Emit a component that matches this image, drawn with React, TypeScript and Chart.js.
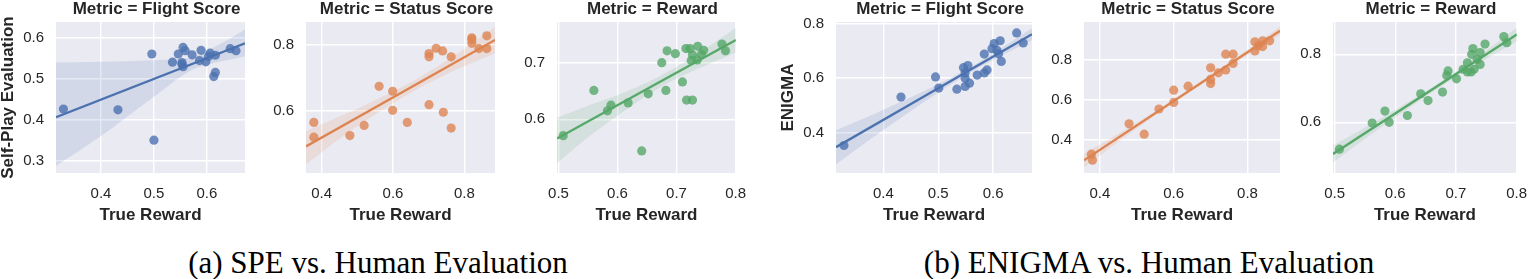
import React, { useEffect, useRef } from "react";
import { Chart, registerables } from "chart.js";
Chart.register(...registerables);

// ---------- data ----------
// (a) SPE vs. Human Evaluation
const speFlightX = [0.329, 0.432, 0.500, 0.496, 0.535, 0.546, 0.555, 0.559, 0.553, 0.555, 0.553, 0.572, 0.589, 0.586, 0.598, 0.606, 0.616, 0.613, 0.616, 0.644, 0.655, 0.603];
const speFlightY = [0.426, 0.424, 0.350, 0.560, 0.540, 0.560, 0.576, 0.568, 0.539, 0.529, 0.535, 0.558, 0.569, 0.544, 0.541, 0.562, 0.557, 0.505, 0.515, 0.573, 0.568, 0.554];
const speFlightLineY = [0.406, 0.586];
const speFlightBandX = [0.315, 0.4, 0.5, 0.57, 0.63, 0.672];
const speFlightBandHi = [0.539, 0.541, 0.545, 0.552, 0.588, 0.62];
const speFlightBandLo = [0.287, 0.36, 0.456, 0.52, 0.543, 0.554];

const speStatusX = [0.378, 0.378, 0.479, 0.519, 0.561, 0.599, 0.599, 0.640, 0.701, 0.701, 0.701, 0.721, 0.739, 0.741, 0.763, 0.763, 0.821, 0.821, 0.821, 0.841, 0.863, 0.863];
const speStatusY = [0.564, 0.519, 0.524, 0.555, 0.674, 0.659, 0.601, 0.564, 0.618, 0.774, 0.764, 0.790, 0.782, 0.595, 0.764, 0.547, 0.822, 0.805, 0.817, 0.789, 0.828, 0.789];
const speStatusLineY = [0.491, 0.815];
const speStatusBandX = [0.356, 0.45, 0.55, 0.67, 0.78, 0.886];
const speStatusBandHi = [0.538, 0.582, 0.632, 0.699, 0.774, 0.855];
const speStatusBandLo = [0.436, 0.514, 0.588, 0.667, 0.726, 0.775];

const speRewardX = [0.508, 0.560, 0.583, 0.589, 0.618, 0.652, 0.641, 0.675, 0.682, 0.684, 0.698, 0.710, 0.716, 0.717, 0.723, 0.727, 0.727, 0.725, 0.736, 0.735, 0.742, 0.746, 0.777, 0.783];
const speRewardY = [0.571, 0.651, 0.615, 0.625, 0.629, 0.645, 0.544, 0.700, 0.651, 0.721, 0.716, 0.666, 0.725, 0.634, 0.725, 0.714, 0.634, 0.704, 0.729, 0.705, 0.715, 0.722, 0.733, 0.721];
const speRewardLineY = [0.566, 0.740];
const speRewardBandX = [0.4975, 0.55, 0.62, 0.68, 0.74, 0.8005];
const speRewardBandHi = [0.603, 0.624, 0.651, 0.681, 0.719, 0.762];
const speRewardBandLo = [0.522, 0.568, 0.621, 0.661, 0.691, 0.718];

// (b) ENIGMA vs. Human Evaluation
const enigmaFlightX = [0.328, 0.432, 0.495, 0.501, 0.534, 0.546, 0.554, 0.549, 0.549, 0.549, 0.557, 0.571, 0.584, 0.589, 0.584, 0.598, 0.602, 0.607, 0.613, 0.610, 0.615, 0.643, 0.655];
const enigmaFlightY = [0.352, 0.530, 0.604, 0.563, 0.559, 0.638, 0.646, 0.619, 0.599, 0.569, 0.581, 0.611, 0.619, 0.630, 0.688, 0.708, 0.727, 0.702, 0.737, 0.689, 0.661, 0.766, 0.729];
const enigmaFlightLineY = [0.346, 0.761];
const enigmaFlightBandX = [0.3135, 0.38, 0.45, 0.52, 0.58, 0.671];
const enigmaFlightBandHi = [0.408, 0.465, 0.529, 0.597, 0.665, 0.783];
const enigmaFlightBandLo = [0.282, 0.381, 0.479, 0.573, 0.645, 0.739];

const enigmaStatusX = [0.377, 0.380, 0.479, 0.520, 0.560, 0.600, 0.600, 0.639, 0.700, 0.700, 0.700, 0.721, 0.741, 0.741, 0.761, 0.761, 0.820, 0.820, 0.841, 0.841, 0.860, 0.829];
const enigmaStatusY = [0.329, 0.299, 0.481, 0.429, 0.555, 0.649, 0.588, 0.669, 0.761, 0.703, 0.682, 0.736, 0.829, 0.750, 0.829, 0.783, 0.891, 0.845, 0.896, 0.867, 0.896, 0.871];
const enigmaStatusLineY = [0.298, 0.946];
const enigmaStatusBandX = [0.357, 0.45, 0.55, 0.65, 0.78, 0.888];
const enigmaStatusBandHi = [0.333, 0.431, 0.544, 0.664, 0.826, 0.968];
const enigmaStatusBandLo = [0.263, 0.391, 0.524, 0.648, 0.802, 0.924];

const enigmaRewardX = [0.508, 0.562, 0.583, 0.590, 0.620, 0.642, 0.654, 0.678, 0.685, 0.687, 0.701, 0.712, 0.719, 0.719, 0.725, 0.728, 0.726, 0.730, 0.740, 0.740, 0.748, 0.779, 0.784, 0.735];
const enigmaRewardY = [0.521, 0.598, 0.633, 0.600, 0.620, 0.684, 0.664, 0.689, 0.738, 0.751, 0.728, 0.756, 0.775, 0.748, 0.748, 0.817, 0.800, 0.756, 0.770, 0.805, 0.830, 0.852, 0.834, 0.785];
const enigmaRewardLineY = [0.507, 0.858];
const enigmaRewardBandX = [0.4974, 0.56, 0.63, 0.69, 0.75, 0.8005];
const enigmaRewardBandHi = [0.532, 0.594, 0.669, 0.738, 0.811, 0.878];
const enigmaRewardBandLo = [0.482, 0.564, 0.651, 0.722, 0.787, 0.838];

const titles = ["Metric = Flight Score", "Metric = Status Score", "Metric = Reward"];
const captions = ["(a) SPE vs. Human Evaluation", "(b) ENIGMA vs. Human Evaluation"];
const xLabel = "True Reward";

const BLUE = "#4C72B0";
const ORANGE = "#DD8452";
const GREEN = "#55A868";

const SANS = "'Liberation Sans', Arial, Helvetica, sans-serif";
const TEXT = "#262626";

function rgba(hex: string, a: number) {
  const n = parseInt(hex.slice(1), 16);
  return `rgba(${(n >> 16) & 255},${(n >> 8) & 255},${n & 255},${a})`;
}

type PanelCfg = {
  title: string;
  ylabel?: string;
  color: string;
  xs: number[];
  ys: number[];
  lineY: number[];
  bandX: number[];
  bandHi: number[];
  bandLo: number[];
  xMin: number;
  xMax: number;
  xStep: number;
  yMin: number;
  yMax: number;
  yStep: number;
  plotL: number;
  plotR: number;
  yw: number;
};

const panels: PanelCfg[] = [
  { title: titles[0], ylabel: "Self-Play Evaluation", color: BLUE, xs: speFlightX, ys: speFlightY, lineY: speFlightLineY, bandX: speFlightBandX, bandHi: speFlightBandHi, bandLo: speFlightBandLo, xMin: 0.315, xMax: 0.672, xStep: 0.1, yMin: 0.27, yMax: 0.638, yStep: 0.1, plotL: 56, plotR: 245, yw: 56 },
  { title: titles[1], color: ORANGE, xs: speStatusX, ys: speStatusY, lineY: speStatusLineY, bandX: speStatusBandX, bandHi: speStatusBandHi, bandLo: speStatusBandLo, xMin: 0.356, xMax: 0.886, xStep: 0.2, yMin: 0.41, yMax: 0.87, yStep: 0.2, plotL: 306, plotR: 495, yw: 50 },
  { title: titles[2], color: GREEN, xs: speRewardX, ys: speRewardY, lineY: speRewardLineY, bandX: speRewardBandX, bandHi: speRewardBandHi, bandLo: speRewardBandLo, xMin: 0.4975, xMax: 0.8005, xStep: 0.1, yMin: 0.505, yMax: 0.772, yStep: 0.1, plotL: 557, plotR: 745, yw: 50 },
  { title: titles[0], ylabel: "ENIGMA", color: BLUE, xs: enigmaFlightX, ys: enigmaFlightY, lineY: enigmaFlightLineY, bandX: enigmaFlightBandX, bandHi: enigmaFlightBandHi, bandLo: enigmaFlightBandLo, xMin: 0.3135, xMax: 0.671, xStep: 0.1, yMin: 0.251, yMax: 0.806, yStep: 0.2, plotL: 836, plotR: 1032, yw: 56 },
  { title: titles[1], color: ORANGE, xs: enigmaStatusX, ys: enigmaStatusY, lineY: enigmaStatusLineY, bandX: enigmaStatusBandX, bandHi: enigmaStatusBandHi, bandLo: enigmaStatusBandLo, xMin: 0.357, xMax: 0.888, xStep: 0.2, yMin: 0.235, yMax: 0.99, yStep: 0.2, plotL: 1084, plotR: 1280, yw: 50 },
  { title: titles[2], color: GREEN, xs: enigmaRewardX, ys: enigmaRewardY, lineY: enigmaRewardLineY, bandX: enigmaRewardBandX, bandHi: enigmaRewardBandHi, bandLo: enigmaRewardBandLo, xMin: 0.4974, xMax: 0.8005, xStep: 0.1, yMin: 0.451, yMax: 0.895, yStep: 0.2, plotL: 1333, plotR: 1526, yw: 50 },
];

const CANVAS_H = 224;
const PAD_TOP = 22;
const X_AXIS_H = 51;
const PAD_RIGHT = 13;

const bgPlugin = {
  id: "seabornBg",
  beforeDraw(chart: any) {
    const { ctx, chartArea: a } = chart;
    ctx.save();
    ctx.fillStyle = "#EAEAF2";
    ctx.fillRect(a.left, a.top, a.right - a.left, a.bottom - a.top);
    ctx.restore();
  },
};

function titlePlugin(text: string) {
  return {
    id: "panelTitle",
    afterDraw(chart: any) {
      const { ctx, chartArea: a } = chart;
      ctx.save();
      ctx.font = `bold 17px ${SANS}`;
      ctx.fillStyle = TEXT;
      ctx.textAlign = "center";
      ctx.textBaseline = "middle";
      ctx.fillText(text, (a.left + a.right) / 2 + 6, 9);
      ctx.restore();
    },
  };
}

function Panel({ cfg }: { cfg: PanelCfg }) {
  const ref = useRef<HTMLCanvasElement>(null);
  const cx = cfg.plotL - cfg.yw;
  const cw = cfg.plotR - cx + PAD_RIGHT;

  useEffect(() => {
    const c = cfg;
    const lineX = [c.xMin, c.xMax];
    const tickFont = { family: SANS, size: 15 };
    const titleFont = { family: SANS, size: 17, weight: "bold" as const, lineHeight: 1 };
    const chart = new Chart(ref.current as HTMLCanvasElement, {
      type: "line",
      data: {
        datasets: [
          {
            data: c.bandX.map((x, i) => ({ x, y: c.bandHi[i] })),
            borderWidth: 0,
            pointRadius: 0,
            fill: "+1",
            backgroundColor: rgba(c.color, 0.15),
            cubicInterpolationMode: "monotone",
            order: 0,
          },
          {
            data: c.bandX.map((x, i) => ({ x, y: c.bandLo[i] })),
            borderWidth: 0,
            pointRadius: 0,
            fill: false,
            cubicInterpolationMode: "monotone",
            order: 0,
          },
          {
            data: lineX.map((x, i) => ({ x, y: c.lineY[i] })),
            borderColor: c.color,
            borderWidth: 2.3,
            pointRadius: 0,
            fill: false,
            order: 1,
          },
          {
            data: c.xs.map((x, i) => ({ x, y: c.ys[i] })),
            showLine: false,
            pointRadius: 4.6,
            pointBorderWidth: 0,
            pointBackgroundColor: rgba(c.color, 0.8),
            order: 2,
          },
        ],
      } as any,
      options: {
        animation: false,
        responsive: false,
        devicePixelRatio: 1,
        events: [],
        layout: { padding: { top: PAD_TOP, right: PAD_RIGHT, left: 0, bottom: 0 } },
        plugins: { legend: { display: false }, tooltip: { enabled: false }, title: { display: false } },
        scales: {
          x: {
            type: "linear",
            min: c.xMin,
            max: c.xMax,
            grid: { color: "#ffffff", lineWidth: 1.4, drawTicks: false },
            border: { display: false },
            ticks: {
              stepSize: c.xStep,
              includeBounds: false,
              autoSkip: false,
              maxRotation: 0,
              padding: 12,
              color: TEXT,
              font: tickFont,
              callback: (v: any) => Number(v).toFixed(1),
            },
            title: { display: true, text: xLabel, color: TEXT, font: titleFont, padding: 0 },
            afterFit: (s: any) => {
              s.height = X_AXIS_H;
            },
          },
          y: {
            type: "linear",
            min: c.yMin,
            max: c.yMax,
            grid: { color: "#ffffff", lineWidth: 1.4, drawTicks: false },
            border: { display: false },
            ticks: {
              stepSize: c.yStep,
              includeBounds: false,
              autoSkip: false,
              padding: 12,
              color: TEXT,
              font: tickFont,
              callback: (v: any) => Number(v).toFixed(1),
            },
            title: { display: !!c.ylabel, text: c.ylabel || "", color: TEXT, font: titleFont, padding: 0 },
            afterFit: (s: any) => {
              s.width = c.yw;
            },
          },
        },
      } as any,
      plugins: [bgPlugin, titlePlugin(c.title)],
    });
    return () => chart.destroy();
  }, []);

  return (
    <canvas
      ref={ref}
      width={cw}
      height={CANVAS_H}
      style={{ position: "absolute", left: cx, top: 0, width: cw, height: CANVAS_H }}
    />
  );
}

const captionStyle = (center: number): React.CSSProperties => ({
  position: "absolute",
  left: center - 300,
  width: 600,
  top: 247,
  textAlign: "center",
  fontFamily: "'Liberation Serif', 'Times New Roman', serif",
  fontSize: 31,
  lineHeight: "31px",
  color: "#000",
  whiteSpace: "nowrap",
});

export default function App() {
  return (
    <div style={{ position: "absolute", left: 0, top: 0, width: 1539, height: 279, background: "#fff", overflow: "hidden" }}>
      {panels.map((p, i) => (
        <Panel key={i} cfg={p} />
      ))}
      <div style={captionStyle(378)}>{captions[0]}</div>
      <div style={captionStyle(1149)}>{captions[1]}</div>
    </div>
  );
}
